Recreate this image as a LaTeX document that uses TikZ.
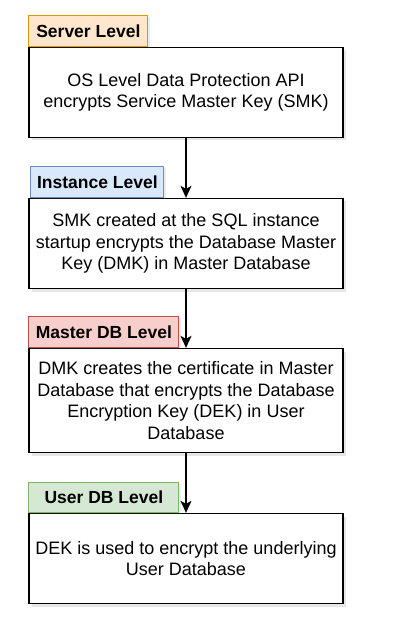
\documentclass[tikz,border=0pt]{standalone}
\usepackage{fontspec}
\setmainfont{Liberation Sans}
\usepackage{xcolor}
\usetikzlibrary{arrows.meta, positioning, shadows}
\definecolor{OrangeFill}{HTML}{FFE6CC}
\definecolor{OrangeLine}{HTML}{D79B00}
\definecolor{BlueFill}{HTML}{DAE8FC}
\definecolor{BlueLine}{HTML}{6C8EBF}
\definecolor{RedFill}{HTML}{F8CECC}
\definecolor{RedLine}{HTML}{B85450}
\definecolor{GreenFill}{HTML}{D5E8D4}
\definecolor{GreenLine}{HTML}{82B366}

\begin{document}
\begin{tikzpicture}[
  x=1pt, y=1pt,
  body/.style={draw=black, line width=1.3pt, fill=white, minimum width=314pt, minimum height=90pt, align=center, font=\fontsize{18}{21.6}\selectfont, drop shadow={shadow xshift=3pt, shadow yshift=-3pt, opacity=0.2}},
  tag/.style={line width=1pt, minimum height=31pt, inner sep=0pt, anchor=south west, font=\fontsize{17.5}{21}\selectfont\bfseries, drop shadow={shadow xshift=2pt, shadow yshift=-2pt, opacity=0.15}},
  arrow/.style={-{Stealth[length=12pt, width=11pt, inset=3pt]}, line width=1.3pt, color=black}
]
\useasboundingbox (0,0) rectangle (399,-620);
\node[body] (server) at (186,-92.5) {OS Level Data Protection API\\encrypts Service Master Key (SMK)};
\node[body, below=59.7pt of server] (instance) {SMK created at the SQL instance\\startup encrypts the Database Master\\Key (DMK) in Master Database};
\node[body, below=58.7pt of instance, minimum height=104pt] (master) {DMK creates the certificate in Master\\Database that encrypts the Database\\Encryption Key (DEK) in User\\Database};
\node[body, below=59.7pt of master] (userdb) {DEK is used to encrypt the underlying\\User Database};

\node[tag, draw=OrangeLine, fill=OrangeFill, minimum width=119pt] (serverlbl) at (server.north west) {Server Level};
\node[tag, draw=BlueLine, fill=BlueFill, minimum width=133pt, xshift=2pt] (instancelbl) at (instance.north west) {Instance Level};
\node[tag, draw=RedLine, fill=RedFill, minimum width=150pt] (masterlbl) at (master.north west) {Master DB Level};
\node[tag, draw=GreenLine, fill=GreenFill, minimum width=150pt, minimum height=30pt] (userlbl) at (userdb.north west) {User DB Level};

\draw[arrow] (server) -- (instance);
\draw[arrow] (instance) -- (master);
\draw[arrow] (master) -- (userdb);
\end{tikzpicture}
\end{document}
